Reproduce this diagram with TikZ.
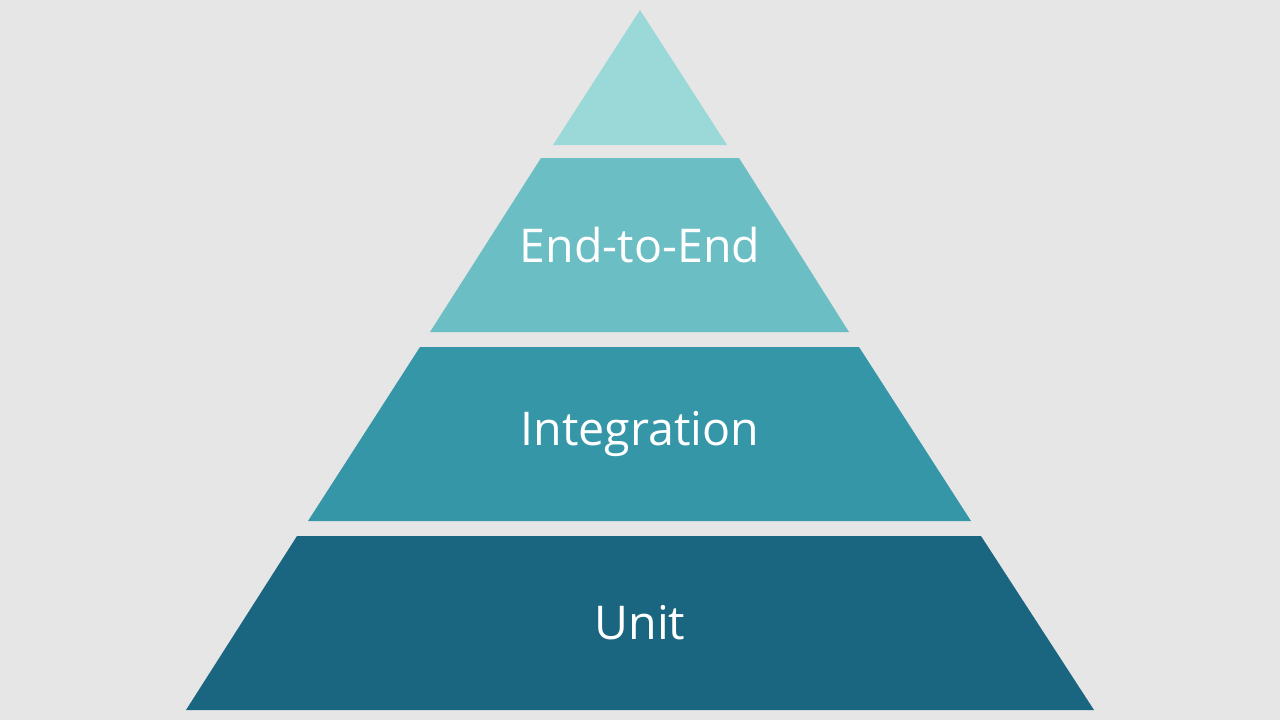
\documentclass[tikz,border=0pt]{standalone}
\usepackage{fontspec}
\setmainfont{Open Sans}
\usetikzlibrary{positioning}
\definecolor{bgcol}{HTML}{E6E6E6}
\definecolor{tierA}{HTML}{9AD9D8}
\definecolor{tierB}{HTML}{6BBEC4}
\definecolor{tierC}{HTML}{3596A8}
\definecolor{tierD}{HTML}{1A6680}
\tikzset{tier label/.style={text=white,font=\fontsize{26.5}{30}\selectfont},
            }

\begin{document}
\begin{tikzpicture}[x=0.02cm,y=-0.02cm]
    \fill[bgcol] (0,0) rectangle (1280,720);
    \useasboundingbox (0,0) rectangle (1280,720);

    \fill[tierA] (640,10) -- (727,145) -- (553,145) -- cycle;
    \fill[tierB] (541,158) -- (739,158) -- (849,332) -- (430,332) -- cycle;
    \fill[tierC] (420,347) -- (859,347) -- (971,521) -- (308,521) -- cycle;
    \fill[tierD] (297,536) -- (981,536) -- (1094,710) -- (186,710) -- cycle;

    \node[tier label] (e2e) at (640,245) {End-to-End};
    \node[tier label] (integ) at (640,434) {Integration};
    \node[tier label] (unit) at (640,623) {Unit};
\end{tikzpicture}
\end{document}
